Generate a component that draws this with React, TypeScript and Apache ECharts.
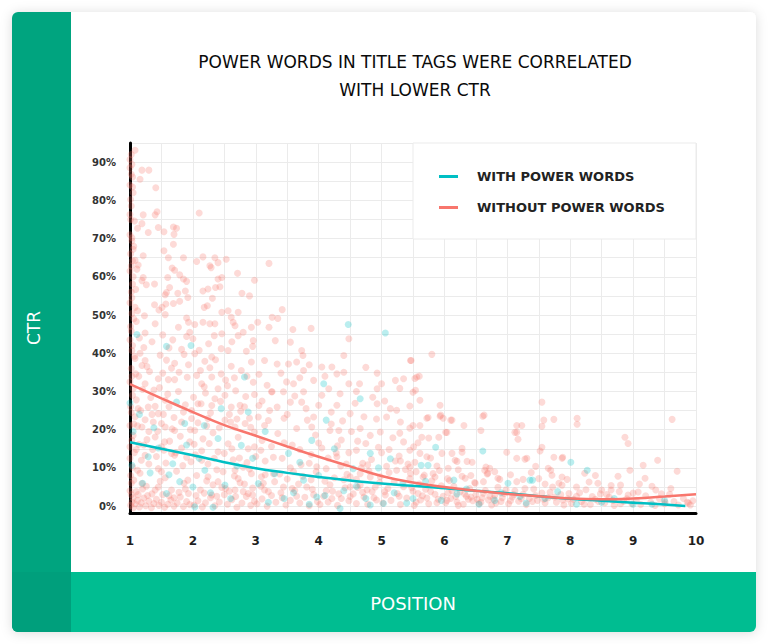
import React, { useEffect, useRef } from 'react';
import * as echarts from 'echarts';

// trend lines
const trendPositions = [1, 1.5, 2, 2.5, 3, 3.5, 4, 4.5, 5, 5.5, 6, 6.5, 7, 7.5, 8, 8.5, 9, 9.5, 10];
const withoutTrend = [31.9, 28.2, 24.6, 21.2, 18.4, 15.6, 12.9, 10.4, 7.9, 6.2, 5.0, 4.0, 3.2, 2.6, 2.0, 1.8, 2.0, 2.5, 3.1];
const withTrendPositions = [1, 1.5, 2, 2.5, 3, 3.5, 4, 4.5, 5, 5.5, 6, 6.5, 7, 7.5, 8, 8.5, 9, 9.5, 9.83];
const withTrend = [16.7, 15.0, 13.3, 11.5, 9.9, 8.7, 7.6, 6.7, 5.9, 5.3, 4.7, 4.0, 3.4, 2.6, 1.9, 1.4, 0.9, 0.4, 0.0];

const yTicks = [0, 5, 10, 15, 20, 25, 30, 35, 40, 45, 50, 55, 60, 65, 70, 75, 80, 85, 90, 95];
const yLabels = [0, 10, 20, 30, 40, 50, 60, 70, 80, 90];

// individual pages, without power words (position, ctr %)
const withoutPoints: [number, number][] = [
  [1.08, 93.1], [1.0, 90.7], [1.03, 89.4], [1.02, 86.8], [1.04, 86.1], [1.16, 85.5], [1.19, 87.9], [1.3, 87.9],
  [1.05, 82.0], [1.41, 83.3], [1.0, 76.3], [1.21, 76.2], [1.4, 76.2], [1.43, 77.0], [2.1, 76.7], [1.07, 74.6],
  [1.19, 73.9], [1.12, 72.7], [1.29, 71.6], [1.45, 72.9], [1.54, 71.8], [1.69, 73.0], [1.74, 72.7], [1.7, 71.1],
  [1.03, 69.4], [1.05, 67.2], [1.69, 68.5], [1.54, 66.8], [1.61, 65.0], [1.21, 65.5], [1.08, 64.3], [1.13, 63.1],
  [1.04, 64.2], [1.85, 65.0], [2.06, 64.0], [2.16, 65.2], [2.35, 65.0], [2.27, 62.9], [2.29, 62.4], [2.4, 63.7],
  [2.53, 64.6], [3.21, 63.5], [1.67, 62.3], [1.71, 61.7], [1.79, 60.5], [1.85, 59.4], [1.9, 58.8], [1.6, 59.8],
  [1.21, 59.8], [1.19, 59.0], [1.26, 57.9], [1.39, 58.1], [1.04, 58.1], [1.63, 57.2], [1.58, 55.9], [1.56, 55.3],
  [1.76, 55.7], [1.88, 56.3], [1.92, 54.6], [2.16, 56.3], [2.24, 56.8], [2.36, 57.2], [2.43, 57.4], [2.46, 59.8],
  [2.4, 59.4], [2.71, 60.9], [2.98, 59.1], [2.78, 55.7], [2.9, 55.0], [2.31, 54.4], [1.39, 52.7], [1.46, 51.3],
  [1.51, 52.0], [1.57, 52.9], [1.69, 53.0], [1.79, 53.6], [2.18, 52.0], [2.23, 52.4], [2.46, 50.7], [2.56, 51.1],
  [2.72, 50.7], [1.08, 52.0], [1.12, 51.1], [1.03, 50.4], [1.23, 49.8], [1.56, 50.1], [1.9, 49.2], [1.93, 48.1],
  [2.03, 47.5], [2.16, 48.1], [2.27, 47.7], [2.35, 47.7], [2.61, 49.4], [2.64, 48.1], [2.67, 47.2], [2.93, 46.8],
  [3.03, 48.1], [3.21, 46.8], [1.4, 47.7], [1.77, 46.8], [3.42, 51.4], [3.26, 49.4], [3.35, 49.1], [3.59, 46.2],
  [3.88, 46.5],
  [1.24, 45.3], [1.9, 44.4], [1.95, 45.5], [2.34, 44.6], [2.46, 45.1], [2.72, 44.6], [2.8, 45.5], [2.96, 43.3],
  [1.62, 41.4], [1.03, 40.7], [1.16, 40.0], [1.24, 38.1], [1.08, 38.6], [1.19, 36.8], [1.71, 37.4], [1.86, 39.7],
  [2.03, 39.9], [2.19, 37.9], [2.3, 39.0], [2.56, 40.7], [2.61, 36.6], [2.77, 35.5], [2.93, 37.7], [3.14, 38.1],
  [3.25, 29.9], [1.45, 33.3], [1.61, 33.1], [1.71, 33.1], [1.04, 29.0], [1.13, 25.5], [1.29, 25.9], [1.56, 27.7],
  [2.01, 28.5], [2.13, 26.8], [2.35, 28.1], [2.51, 29.0], [2.61, 25.9], [2.75, 26.4], [3.04, 23.3], [1.0, 21.1],
  [1.19, 20.7], [1.37, 22.0], [1.56, 20.7], [1.71, 19.8], [2.03, 19.8], [2.98, 19.4], [3.14, 21.1], [1.0, 15.5],
  [1.24, 13.3], [1.54, 14.6], [1.71, 13.3], [1.97, 11.6], [2.14, 12.0], [1.12, 9.4], [2.72, 7.2], [3.14, 4.2],
  [2.3, 2.9], [1.4, 18.1], [1.45, 24.2], [1.24, 32.0], [2.14, 32.0], [2.3, 33.8], [2.4, 30.7], [1.85, 24.6],
  [1.98, 22.9], [2.24, 22.9], [2.51, 22.5], [2.67, 20.7], [2.83, 21.6], [1.5, 9.0], [2.24, 7.7], [2.4, 6.4],
  [2.67, 9.4], [2.93, 8.5], [3.09, 7.7], [1.19, 5.9], [1.45, 5.0], [1.66, 4.2], [1.93, 3.3], [2.67, 4.2], [2.88, 3.3],
  [3.31, 43.3], [3.55, 42.9], [3.73, 40.7], [3.75, 39.4], [4.48, 43.8], [4.4, 39.4], [3.34, 37.2], [3.52, 37.2],
  [3.65, 37.7], [3.76, 35.5], [4.05, 36.4], [4.21, 36.4], [4.29, 34.6], [4.93, 34.8], [5.46, 38.1], [5.56, 33.8],
  [3.26, 29.9], [3.44, 29.9], [3.49, 32.5], [3.6, 32.0], [3.76, 29.9], [3.92, 32.9], [4.16, 30.7], [4.34, 29.4],
  [4.48, 32.0], [4.65, 32.0], [4.93, 30.7], [5.22, 32.9], [5.35, 33.3], [5.54, 30.3], [4.93, 26.8], [5.14, 25.5],
  [5.24, 25.1], [5.08, 23.3], [3.34, 25.9], [3.55, 27.2], [3.73, 27.2], [4.0, 26.4], [4.29, 26.4], [4.5, 24.2],
  [3.92, 23.3], [3.89, 20.7], [4.18, 19.8], [4.32, 19.8], [4.66, 20.3], [4.82, 18.5], [4.98, 19.4], [5.35, 16.8],
  [5.51, 15.5], [4.29, 12.9], [3.97, 10.3], [3.81, 5.0], [4.21, 2.0], [5.46, 8.5], [3.28, 8.5], [3.44, 5.0],
  [4.5, 7.7], [4.66, 8.5], [4.98, 7.7], [5.24, 9.4], [4.5, 5.0], [4.77, 4.2],
  [5.8, 39.7], [5.47, 38.1], [5.53, 33.4], [5.6, 34.0], [5.5, 29.8], [5.61, 27.7], [5.29, 30.8], [5.93, 26.4],
  [7.55, 27.2], [5.94, 23.8], [5.98, 23.0], [6.1, 22.5], [5.72, 23.0], [6.61, 23.5], [6.31, 21.1], [6.58, 19.8],
  [7.15, 21.1], [7.15, 19.3], [7.23, 21.1], [7.74, 22.7], [8.11, 23.0], [8.11, 21.4], [9.62, 22.7], [8.87, 18.0],
  [8.92, 16.4], [5.45, 20.4], [5.5, 21.1], [5.29, 19.1], [5.91, 18.0], [6.02, 19.3], [6.99, 14.1], [7.15, 12.5],
  [7.31, 12.5], [7.45, 10.4], [7.55, 15.4], [7.74, 12.8], [7.88, 12.8], [8.23, 8.6], [9.39, 12.0], [9.16, 10.7],
  [9.7, 9.1], [9.19, 7.3], [8.76, 7.8], [8.95, 9.4], [5.45, 10.2], [6.17, 12.0], [6.28, 15.1], [6.36, 11.7],
  [6.44, 11.5], [6.66, 10.2], [6.69, 8.6], [7.71, 8.1], [7.87, 7.6], [7.87, 5.5], [8.44, 6.0], [8.5, 4.2],
  [8.65, 4.2], [9.0, 3.4], [9.08, 3.7], [9.36, 4.2], [9.51, 1.0], [9.86, 1.0], [9.91, 0.3],
  [5.74, 23.2], [5.93, 23.5], [6.12, 22.5], [6.63, 23.8], [7.12, 19.3], [7.17, 17.5], [7.58, 22.5], [7.55, 20.9],
  [5.61, 21.1], [5.64, 18.0], [5.75, 17.8], [6.04, 19.3], [6.28, 14.1], [6.12, 13.8], [5.96, 13.8], [5.61, 13.8],
  [7.28, 12.3], [7.52, 14.4], [7.87, 12.5], [7.69, 9.4], [6.72, 9.9], [6.64, 9.4], [6.2, 11.7], [6.06, 9.9],
  [5.53, 11.5], [6.85, 7.3], [6.33, 7.3], [6.49, 6.0], [5.85, 7.6], [5.66, 7.6],
  [1.01, 0.2], [1.03, 1.1], [1.05, -0.5], [1.08, 0.6], [1.12, 1.5], [1.15, -0.2], [1.18, 0.9], [1.22, 2.1],
  [1.25, 0.1], [1.3, 1.3], [1.34, -0.4], [1.38, 0.7], [1.42, 1.8], [1.46, 0.2], [1.5, 1.0], [1.55, -0.3],
  [1.6, 0.5], [1.65, 1.6], [1.7, 0.0], [1.75, 0.8], [1.8, 2.4], [1.85, -0.1], [1.9, 1.2], [1.95, 0.4],
  [1.02, 3.0], [1.1, 3.8], [1.2, 4.5], [1.35, 3.2], [1.48, 6.5], [1.62, 2.7], [1.78, 3.6], [1.92, 6.8],
  [2.02, 0.3], [2.08, 1.4], [2.15, -0.2], [2.2, 0.9], [2.28, 2.2], [2.35, 0.1], [2.42, 1.1], [2.5, 3.0],
  [2.55, 0.5], [2.62, 1.7], [2.7, -0.3], [2.78, 0.8], [2.85, 2.5], [2.92, 0.2], [2.98, 1.3], [2.12, 4.2],
  [2.32, 5.6], [2.58, 3.9], [2.75, 6.1], [2.95, 4.7],
  [3.02, 0.6], [3.1, 1.9], [3.18, 0.0], [3.25, 2.8], [3.32, 1.0], [3.4, 3.5], [3.48, 0.3], [3.55, 1.5],
  [3.62, 4.1], [3.7, 0.8], [3.78, 2.3], [3.85, 0.1], [3.92, 3.0], [3.98, 1.2], [3.08, 5.2], [3.3, 6.4],
  [3.5, 7.1], [3.68, 5.8], [3.88, 6.9], [3.15, 8.2], [3.6, 9.0],
  [4.02, 0.4], [4.08, 2.6], [4.15, 1.1], [4.22, 3.9], [4.3, 0.2], [4.36, 2.0], [4.42, 4.8], [4.48, 1.4],
  [4.55, 3.2], [4.6, 0.7], [4.66, 5.5], [4.72, 2.4], [4.78, 0.5], [4.85, 3.8], [4.92, 1.6], [4.97, 6.2],
  [4.1, 6.5], [4.25, 7.4], [4.45, 8.3], [4.6, 7.0], [4.8, 9.2], [4.35, 10.5], [4.7, 11.2], [4.9, 5.0],
  [5.02, 0.8], [5.06, 2.9], [5.1, 4.6], [5.15, 1.5], [5.2, 6.3], [5.25, 3.3], [5.3, 0.4], [5.35, 5.1],
  [5.4, 2.1], [5.45, 7.2], [5.5, 3.9], [5.55, 1.0], [5.6, 5.8], [5.65, 2.7], [5.7, 4.4], [5.75, 0.6],
  [5.8, 6.6], [5.85, 3.1], [5.9, 1.8], [5.95, 5.3], [5.12, 8.8], [5.38, 9.6], [5.68, 8.1], [5.92, 9.3],
  [5.22, 11.8], [5.78, 12.6],
  [6.02, 0.9], [6.06, 3.5], [6.1, 2.0], [6.15, 5.2], [6.2, 1.1], [6.25, 3.8], [6.3, 0.5], [6.35, 2.6],
  [6.4, 4.6], [6.45, 1.4], [6.5, 3.0], [6.55, 0.7], [6.6, 2.2], [6.65, 4.1], [6.7, 1.6], [6.75, 0.3],
  [6.8, 2.8], [6.85, 4.9], [6.9, 1.2], [6.95, 3.3], [6.08, 6.7], [6.28, 7.8], [6.48, 6.2], [6.68, 8.4],
  [6.88, 7.0], [6.38, 1.8], [6.58, 1.0], [6.78, 1.9],
  [7.02, 0.6], [7.08, 2.4], [7.12, 4.0], [7.18, 1.3], [7.25, 3.1], [7.3, 0.4], [7.35, 2.0], [7.42, 4.5],
  [7.48, 1.5], [7.55, 3.4], [7.6, 0.8], [7.65, 2.2], [7.72, 5.0], [7.78, 1.0], [7.85, 3.0], [7.9, 0.3],
  [7.96, 1.9], [7.15, 6.4], [7.5, 7.2], [7.82, 6.0], [7.38, 8.8], [7.65, 9.9],
  [8.02, 0.7], [8.1, 2.6], [8.18, 1.2], [8.25, 4.3], [8.32, 0.4], [8.4, 1.8], [8.48, 3.2], [8.55, 0.9],
  [8.62, 2.4], [8.7, 0.2], [8.78, 3.8], [8.85, 1.3], [8.92, 2.9], [8.98, 0.6], [8.3, 6.3], [8.65, 5.4],
  [9.05, 1.5], [9.12, 0.4], [9.2, 2.7], [9.28, 1.0], [9.35, 0.2], [9.42, 1.9], [9.5, 0.6], [9.58, 3.1],
  [9.65, 1.2], [9.72, 0.3], [9.8, 2.0], [9.88, 0.8], [9.95, 1.4], [9.3, 5.2], [9.6, 4.6],
  [1.05, 18.5], [1.08, 23.4], [1.1, 27.8], [1.14, 16.2], [1.18, 12.0], [1.2, 30.5], [1.24, 22.6], [1.27, 17.4],
  [1.31, 35.2], [1.33, 28.4], [1.36, 14.8], [1.4, 26.1], [1.44, 19.6], [1.47, 31.0], [1.5, 15.5], [1.53, 24.0],
  [1.57, 11.3], [1.6, 29.3], [1.63, 17.0], [1.66, 36.1], [1.7, 23.2], [1.73, 14.0], [1.77, 30.0], [1.8, 18.3],
  [1.84, 10.6], [1.88, 26.5], [1.91, 33.7], [1.95, 16.8], [1.98, 25.0], [2.04, 13.4], [2.08, 21.8], [2.12, 35.5],
  [2.16, 17.6], [2.2, 29.6], [2.24, 11.0], [2.28, 24.4], [2.32, 19.2], [2.36, 38.3], [2.4, 14.2], [2.44, 27.4],
  [2.48, 9.0], [2.52, 33.0], [2.56, 16.3], [2.6, 22.0], [2.64, 12.1], [2.68, 30.2], [2.72, 18.0], [2.76, 24.8],
  [2.8, 10.2], [2.84, 28.7], [2.88, 15.0], [2.92, 20.6], [2.96, 32.4], [3.0, 13.0], [3.05, 26.3], [3.1, 17.2],
  [3.15, 11.8], [3.2, 22.4], [3.25, 15.6], [3.35, 19.0], [3.42, 12.5], [3.5, 24.0], [3.58, 16.0], [3.65, 20.3],
  [3.72, 10.8], [3.8, 25.5], [3.88, 13.5], [3.95, 18.6], [4.05, 15.2], [4.12, 9.8], [4.2, 21.5], [4.28, 13.9],
  [4.36, 17.3], [4.44, 11.0], [4.52, 19.5], [4.6, 14.6], [4.68, 10.0], [4.75, 16.4], [4.84, 12.2], [4.92, 22.8],
  [5.0, 14.0], [5.08, 10.4], [5.18, 17.9], [5.28, 13.1], [5.42, 11.0], [5.58, 16.6], [5.72, 12.9], [5.88, 10.5],
  [1.06, 6.8], [1.16, 8.6], [1.26, 5.2], [1.45, 9.8], [1.56, 7.4], [1.74, 9.1], [1.86, 6.0], [2.06, 8.0],
  [2.22, 6.6], [2.38, 9.5], [2.46, 4.9], [2.66, 7.9], [2.82, 5.8], [2.9, 9.7], [3.12, 6.0], [3.38, 8.4],
  [3.58, 4.6], [3.75, 7.8], [3.96, 9.0], [4.18, 5.6], [4.4, 6.9], [4.62, 4.9], [4.82, 7.6],
  [1.0, 84.0], [1.01, 80.2], [1.02, 78.5], [1.0, 71.0], [1.01, 66.0], [1.0, 61.5], [1.02, 56.0], [1.0, 53.2],
  [1.01, 47.0], [1.0, 43.5], [1.02, 36.0], [1.0, 32.5], [1.01, 26.0], [1.0, 12.5], [1.01, 8.0], [1.0, 4.0],
  [1.02, 92.0], [1.0, 88.5], [1.04, 83.5], [1.01, 75.0], [1.03, 70.2], [1.06, 68.0], [1.02, 62.8], [1.05, 60.0],
  [1.03, 54.5], [1.06, 49.0], [1.02, 45.8], [1.04, 42.0], [1.07, 39.2], [1.03, 34.0], [1.05, 30.8], [1.02, 24.5],
  [1.06, 21.5], [1.03, 17.2], [1.07, 14.0], [1.04, 10.2], [1.02, 6.0], [1.05, 2.2], [1.09, 34.6], [1.1, 48.3],
  [1.09, 56.7], [1.11, 62.0],
  [1.15, 44.0], [1.22, 41.5], [1.35, 43.0], [1.48, 39.5], [1.52, 44.8], [1.68, 43.5], [1.82, 41.0], [2.0, 43.8],
  [2.1, 40.8], [2.25, 42.5], [2.45, 41.2], [2.62, 43.0], [2.85, 40.5], [2.95, 41.8],
  [1.14, 34.0], [1.27, 36.5], [1.38, 30.4], [1.52, 34.8], [1.58, 38.2], [1.78, 35.0], [1.93, 37.0], [2.06, 34.2],
  [2.18, 31.2], [2.27, 36.2], [2.45, 34.6], [2.55, 31.5], [2.66, 33.6], [2.86, 34.0], [2.98, 29.2],
  [1.12, 21.0], [1.17, 25.0], [1.3, 19.5], [1.35, 24.0], [1.5, 21.6], [1.62, 26.0], [1.67, 20.2], [1.82, 22.0],
  [1.96, 20.0], [2.08, 26.8], [2.22, 21.0], [2.3, 26.3], [2.42, 20.5], [2.58, 24.0], [2.7, 22.8], [2.82, 26.0],
  [2.9, 23.0],
  [1.1, 14.8], [1.22, 16.0], [1.3, 11.0], [1.42, 13.0], [1.55, 16.8], [1.66, 13.8], [1.82, 15.2], [1.9, 12.8],
  [2.02, 16.2], [2.14, 14.5], [2.26, 16.4], [2.34, 12.5], [2.5, 13.8], [2.62, 15.0], [2.74, 12.6], [2.86, 11.4],
  [2.98, 15.5],
  [1.13, 3.0], [1.28, 2.8], [1.4, 4.2], [1.52, 3.0], [1.7, 2.2], [1.88, 4.5], [2.05, 2.8], [2.18, 3.4],
  [2.38, 2.6], [2.52, 4.6], [2.68, 2.5], [2.8, 3.8], [2.95, 2.9],
  [3.05, 34.5], [3.18, 31.6], [3.4, 34.8], [3.7, 33.6], [3.85, 37.0], [4.1, 34.0], [4.4, 35.0], [4.6, 30.0],
  [4.75, 36.3], [5.0, 32.0],
  [3.1, 27.5], [3.22, 25.0], [3.45, 23.0], [3.62, 28.8], [3.82, 22.5], [4.05, 29.0], [4.2, 24.6], [4.38, 22.3],
  [4.58, 26.9], [4.72, 23.4], [4.86, 28.5], [5.05, 27.5], [5.3, 22.0], [5.45, 26.2],
  [3.08, 14.6], [3.28, 12.8], [3.45, 16.6], [3.55, 10.0], [3.7, 14.8], [3.85, 11.2], [4.0, 16.5], [4.15, 12.6],
  [4.3, 15.8], [4.48, 14.0], [4.62, 17.0], [4.78, 10.8], [4.95, 15.4], [5.12, 14.8], [5.3, 11.8], [5.45, 14.6],
  [3.2, 3.8], [3.42, 2.2], [3.65, 2.6], [3.9, 4.4], [4.12, 4.0], [4.32, 3.2], [4.5, 2.5], [4.7, 3.6],
  [4.88, 2.2], [5.05, 3.8], [5.28, 2.6], [5.48, 4.8],
  [5.52, 0.2], [5.58, 3.3], [5.62, 1.6], [5.72, 2.1], [5.78, 3.8], [5.88, 0.9], [5.98, 2.6], [6.04, 1.5],
  [6.12, 4.0], [6.18, 2.5], [6.22, 0.2], [6.32, 3.2], [6.42, 2.4], [6.52, 1.8], [6.62, 3.4], [6.72, 2.6],
  [6.82, 0.8], [6.92, 2.2], [6.98, 4.3], [7.05, 1.4], [7.1, 3.0], [7.22, 2.0], [7.28, 4.6], [7.4, 1.2],
  [7.45, 2.8], [7.58, 1.8], [7.68, 3.6], [7.75, 2.4], [7.88, 1.6], [7.98, 3.3], [8.05, 1.8], [8.15, 3.5],
  [8.22, 0.5], [8.35, 2.5], [8.45, 1.2], [8.58, 3.0], [8.68, 1.5], [8.8, 0.6], [8.9, 1.9],
  [5.55, 9.0], [5.82, 8.5], [6.05, 7.2], [6.22, 9.5], [6.42, 8.0], [6.62, 6.4], [6.8, 9.0], [7.05, 8.2],
  [7.25, 7.0], [7.6, 5.8], [7.95, 7.0], [8.1, 5.0], [8.4, 8.0], [8.8, 5.5], [9.1, 5.8], [9.45, 3.2],
];

// individual pages, with power words
const withPoints: [number, number][] = [
  [1.11, 44.9], [1.58, 41.8], [1.97, 42.0], [1.74, 27.2], [1.87, 21.6], [2.18, 21.1], [2.4, 17.7], [2.77, 15.9],
  [2.88, 24.6], [1.29, 12.9], [1.03, 10.7], [1.32, 8.7], [1.68, 11.1], [1.79, 6.4], [2.19, 9.4], [2.51, 5.5],
  [3.04, 5.9], [1.58, 3.3], [2.03, -0.2], [2.32, -0.3], [4.47, 47.5], [5.06, 45.3], [4.08, 32.0], [4.66, 28.1],
  [3.89, 17.2], [3.52, 13.8], [4.82, 13.8], [3.76, 6.8], [4.34, -0.6], [4.82, 0.3], [5.03, 0.7], [5.34, 5.9],
  [5.86, 15.4], [6.61, 14.4], [5.74, 10.7], [7.36, 6.8], [8.01, 11.5], [8.27, 9.4], [7.4, 6.8], [2.82, 33.8],
  [1.0, 27.0], [1.05, 19.5], [1.2, 6.0], [2.6, 2.0], [3.2, 1.0], [3.6, 3.5], [4.1, 2.8], [4.6, 5.2],
  [5.5, 2.0], [6.2, 3.2], [6.8, 1.5], [7.2, 2.5], [7.8, 3.8], [8.5, 1.0], [9.0, 0.5], [9.5, 1.5],
  [3.97, 2.4], [2.0, 5.0], [5.14, 12.4], [4.12, 22.5], [6.15, 6.8], [7.01, 6.0], [5.63, 10.7],
  [1.15, 24.0], [1.38, 20.5], [1.45, 15.2], [1.62, 8.2], [1.9, 16.0], [2.1, 12.5], [2.28, 3.5], [2.45, 25.5],
  [2.7, 10.5], [2.95, 12.5], [3.15, 19.5], [3.3, 8.5], [3.45, 2.0], [3.7, 11.5], [3.85, 0.5], [4.0, 8.0],
  [4.25, 15.0], [4.4, 4.0], [4.55, 9.8], [4.75, 2.0], [4.95, 10.0], [5.2, 3.5], [5.4, 0.8], [5.7, 6.5],
  [5.95, 1.5], [6.35, 4.5], [6.55, 0.5], [6.9, 3.5], [7.3, 0.8], [7.6, 2.0], [8.1, 0.5], [8.7, 2.0], [9.3, 0.5],
];

const RED = '#F8766D';
const CYAN = '#00BFC4';
const FONT = '"DejaVu Sans", sans-serif';

const App = () => {
  const chartRef = useRef<HTMLDivElement>(null);

  useEffect(() => {
    if (!chartRef.current) return;
    const myChart = echarts.init(chartRef.current, undefined, { renderer: 'svg' });

    const option: any = {
      animation: false,
      backgroundColor: '#ffffff',
      textStyle: { fontFamily: FONT },
      title: {
        text: 'POWER WORDS IN TITLE TAGS WERE CORRELATED\nWITH LOWER CTR',
        left: 410,
        top: 43,
        textAlign: 'center',
        textStyle: { fontFamily: FONT, fontSize: 17, fontWeight: 'normal', color: '#0a0a0a', lineHeight: 28 },
      },
      graphic: [
        {
          type: 'rect', z: -10, silent: true,
          shape: { x: 12, y: 12, width: 744, height: 620, r: 6 },
          style: { fill: '#fff', shadowBlur: 12, shadowColor: 'rgba(0,0,0,0.14)', shadowOffsetY: 1 },
        },
        { type: 'rect', z: -9, silent: true, shape: { x: 12, y: 12, width: 59, height: 620, r: [6, 0, 0, 6] }, style: { fill: '#00a47f' } },
        { type: 'rect', z: -9, silent: true, shape: { x: 71, y: 572, width: 685, height: 60, r: [0, 0, 6, 0] }, style: { fill: '#00bd91' } },
        { type: 'rect', z: -8, silent: true, shape: { x: 12, y: 572, width: 59, height: 60, r: [0, 0, 0, 6] }, style: { fill: '#009f7c' } },
        // white box behind the legend
        {
          type: 'rect', z: 3, silent: true,
          shape: { x: 413, y: 143, width: 283, height: 96 },
          style: { fill: '#fff', stroke: '#ebebeb', lineWidth: 1 },
        },
      ],
      legend: {
        data: [
          { name: 'WITH POWER WORDS', icon: 'rect' },
          { name: 'WITHOUT POWER WORDS', icon: 'rect' },
        ],
        orient: 'vertical',
        left: 434,
        top: 165,
        z: 10,
        itemWidth: 19,
        itemHeight: 3,
        itemGap: 18,
        textStyle: { fontFamily: FONT, fontSize: 13, fontWeight: 'bold', color: '#222', padding: [0, 0, 0, 14] },
      },
      grid: { left: 130, right: 72, top: 143, bottom: 131 },
      xAxis: {
        type: 'value',
        min: 1,
        max: 10,
        interval: 0.5,
        name: 'POSITION',
        nameLocation: 'middle',
        nameGap: 81,
        nameTextStyle: { fontFamily: FONT, fontSize: 18, color: '#fff' },
        axisLine: { show: true, onZero: false, lineStyle: { color: '#000', width: 3 } },
        axisTick: { show: false },
        axisLabel: {
          margin: 22,
          fontFamily: FONT,
          fontSize: 12,
          fontWeight: 'bold',
          color: '#1e1e1e',
          formatter: (v: number) => (Number.isInteger(v) ? String(v) : ''),
        },
        splitLine: { show: true, lineStyle: { color: '#ebebeb', width: 1 } },
      },
      yAxis: {
        type: 'value',
        min: -1.8,
        max: 95,
        name: 'CTR',
        nameLocation: 'middle',
        nameRotate: 90,
        nameGap: 88,
        nameTextStyle: { fontFamily: FONT, fontSize: 17, color: '#fff' },
        axisLine: { show: true, onZero: false, lineStyle: { color: '#000', width: 3 } },
        axisTick: { show: false, customValues: yTicks },
        axisLabel: {
          customValues: yLabels,
          margin: 14,
          fontFamily: FONT,
          fontSize: 10,
          fontWeight: 'bold',
          color: '#333',
          formatter: (v: number) => `${v}%`,
        },
        splitLine: { show: true, lineStyle: { color: '#ebebeb', width: 1 } },
      },
      series: [
        {
          name: 'without-points',
          type: 'scatter',
          data: withoutPoints,
          symbolSize: 7,
          silent: true,
          itemStyle: { color: RED, opacity: 0.27 },
          z: 2,
        },
        {
          name: 'with-points',
          type: 'scatter',
          data: withPoints,
          symbolSize: 7,
          silent: true,
          itemStyle: { color: CYAN, opacity: 0.27 },
          z: 2,
        },
        {
          name: 'WITH POWER WORDS',
          type: 'line',
          data: withTrendPositions.map((p, i) => [p, withTrend[i]]),
          smooth: true,
          showSymbol: false,
          lineStyle: { color: CYAN, width: 2.5 },
          itemStyle: { color: CYAN },
          z: 4,
        },
        {
          name: 'WITHOUT POWER WORDS',
          type: 'line',
          data: trendPositions.map((p, i) => [p, withoutTrend[i]]),
          smooth: true,
          showSymbol: false,
          lineStyle: { color: RED, width: 2.5 },
          itemStyle: { color: RED },
          z: 4,
        },
      ],
    };

    myChart.setOption(option);

    return () => {
      myChart.dispose();
    };
  }, []);

  return (
    <div style={{ position: 'absolute', left: 0, top: 0, width: 768, height: 644 }}>
      <div ref={chartRef} style={{ width: 768, height: 644 }} />
    </div>
  );
};

export default App;
